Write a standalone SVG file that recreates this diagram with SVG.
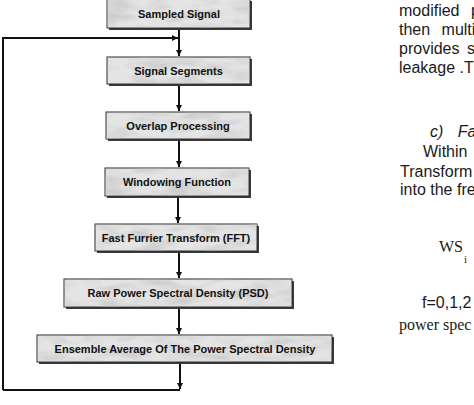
<svg xmlns="http://www.w3.org/2000/svg" width="474" height="405" viewBox="0 0 474 405">
<style>
.bx{fill:#e4e4e4;stroke:#2a2a2a;stroke-width:1}
.sh{fill:#3a3a3a}
.tex{filter:url(#marble)}
.lbl{font-family:"Liberation Sans",Arial,sans-serif;font-weight:bold;font-size:11px;fill:#111;text-anchor:middle}
.ln{stroke:#111;stroke-width:2;fill:none}
.body{font-family:"Liberation Sans",Arial,sans-serif;font-size:16px;fill:#1a1a1a}
.serif{font-family:"Liberation Serif","Times New Roman",serif;fill:#1a1a1a}
</style>
<defs>
<filter id="marble" x="0" y="0" width="100%" height="100%">
<feTurbulence type="fractalNoise" baseFrequency="0.03 0.1" numOctaves="3" seed="4" result="n"/>
<feColorMatrix in="n" type="matrix" values="0 0 0 0 0.5  0 0 0 0 0.5  0 0 0 0 0.5  1.3 0 0 0 -0.5" result="g"/>
<feComposite in="g" in2="SourceGraphic" operator="in"/>
</filter>
<marker id="ah" viewBox="0 0 10 10" refX="10" refY="5" markerWidth="6" markerHeight="6" orient="auto" markerUnits="userSpaceOnUse">
<path d="M0,0 L10,5 L0,10 z" fill="#111"/>
</marker>
</defs>
<rect width="474" height="405" fill="#fff"/>

<g id="connectors">
<path class="ln" d="M179,28 V56" marker-end="url(#ah)"/>
<path class="ln" d="M3,390 V38 H178" marker-end="url(#ah)"/>
<path class="ln" d="M179,84 V111" marker-end="url(#ah)"/>
<path class="ln" d="M179,139 V167" marker-end="url(#ah)"/>
<path class="ln" d="M178,196 V223" marker-end="url(#ah)"/>
<path class="ln" d="M179,251 V278" marker-end="url(#ah)"/>
<path class="ln" d="M179,307 V334" marker-end="url(#ah)"/>
<path class="ln" d="M180,362 V389" marker-end="url(#ah)"/>
<path class="ln" d="M3,390 H180"/>
</g>

<g id="n1">
<rect class="sh" x="109" y="1" width="143" height="29"/>
<rect class="bx" x="107" y="-1" width="143" height="29"/>
<rect class="bx tex" x="107" y="-1" width="143" height="29" style="stroke:none"/>
<text class="lbl" x="179" y="18">Sampled Signal</text>
</g>
<g id="n2">
<rect class="sh" x="109" y="59" width="143" height="27"/>
<rect class="bx" x="107" y="57" width="143" height="27"/>
<rect class="bx tex" x="107" y="57" width="143" height="27" style="stroke:none"/>
<text class="lbl" x="178.5" y="75">Signal Segments</text>
</g>
<g id="n3">
<rect class="sh" x="108" y="114" width="144" height="27"/>
<rect class="bx" x="106" y="112" width="144" height="27"/>
<rect class="bx tex" x="106" y="112" width="144" height="27" style="stroke:none"/>
<text class="lbl" x="178" y="130">Overlap Processing</text>
</g>
<g id="n4">
<rect class="sh" x="107" y="170" width="144" height="28"/>
<rect class="bx" x="105" y="168" width="144" height="28"/>
<rect class="bx tex" x="105" y="168" width="144" height="28" style="stroke:none"/>
<text class="lbl" x="177" y="186">Windowing Function</text>
</g>
<g id="n5">
<rect class="sh" x="97" y="226" width="162" height="27"/>
<rect class="bx" x="95" y="224" width="162" height="27"/>
<rect class="bx tex" x="95" y="224" width="162" height="27" style="stroke:none"/>
<text class="lbl" x="176" y="242">Fast Furrier Transform (FFT)</text>
</g>
<g id="n6">
<rect class="sh" x="66" y="281" width="228" height="28"/>
<rect class="bx" x="64" y="279" width="228" height="28"/>
<rect class="bx tex" x="64" y="279" width="228" height="28" style="stroke:none"/>
<text class="lbl" x="178" y="297">Raw Power Spectral Density (PSD)</text>
</g>
<g id="n7">
<rect class="sh" x="39" y="337" width="295" height="27"/>
<rect class="bx" x="37" y="335" width="295" height="27"/>
<rect class="bx tex" x="37" y="335" width="295" height="27" style="stroke:none"/>
<text class="lbl" x="185" y="353">Ensemble Average Of The Power Spectral Density</text>
</g>

<g id="sidetext">
<text class="body" x="399" y="16" word-spacing="7">modified p</text>
<text class="body" x="399" y="35" word-spacing="7">then multi</text>
<text class="body" x="399" y="54" word-spacing="3">provides s</text>
<text class="body" x="399" y="73">leakage .T</text>
<text class="body" x="430" y="137" font-style="italic" word-spacing="10">c) Fa</text>
<text class="body" x="423" y="157">Within</text>
<text class="body" x="400" y="177">Transform</text>
<text class="body" x="400" y="195">into the fre</text>
<text class="serif" x="439" y="252" font-size="16">WS</text>
<text class="serif" x="464" y="263" font-size="11">i</text>
<text class="body" x="422" y="308">f=0,1,2</text>
<text class="serif" x="399" y="330" font-size="16">power spec</text>
</g>
</svg>
